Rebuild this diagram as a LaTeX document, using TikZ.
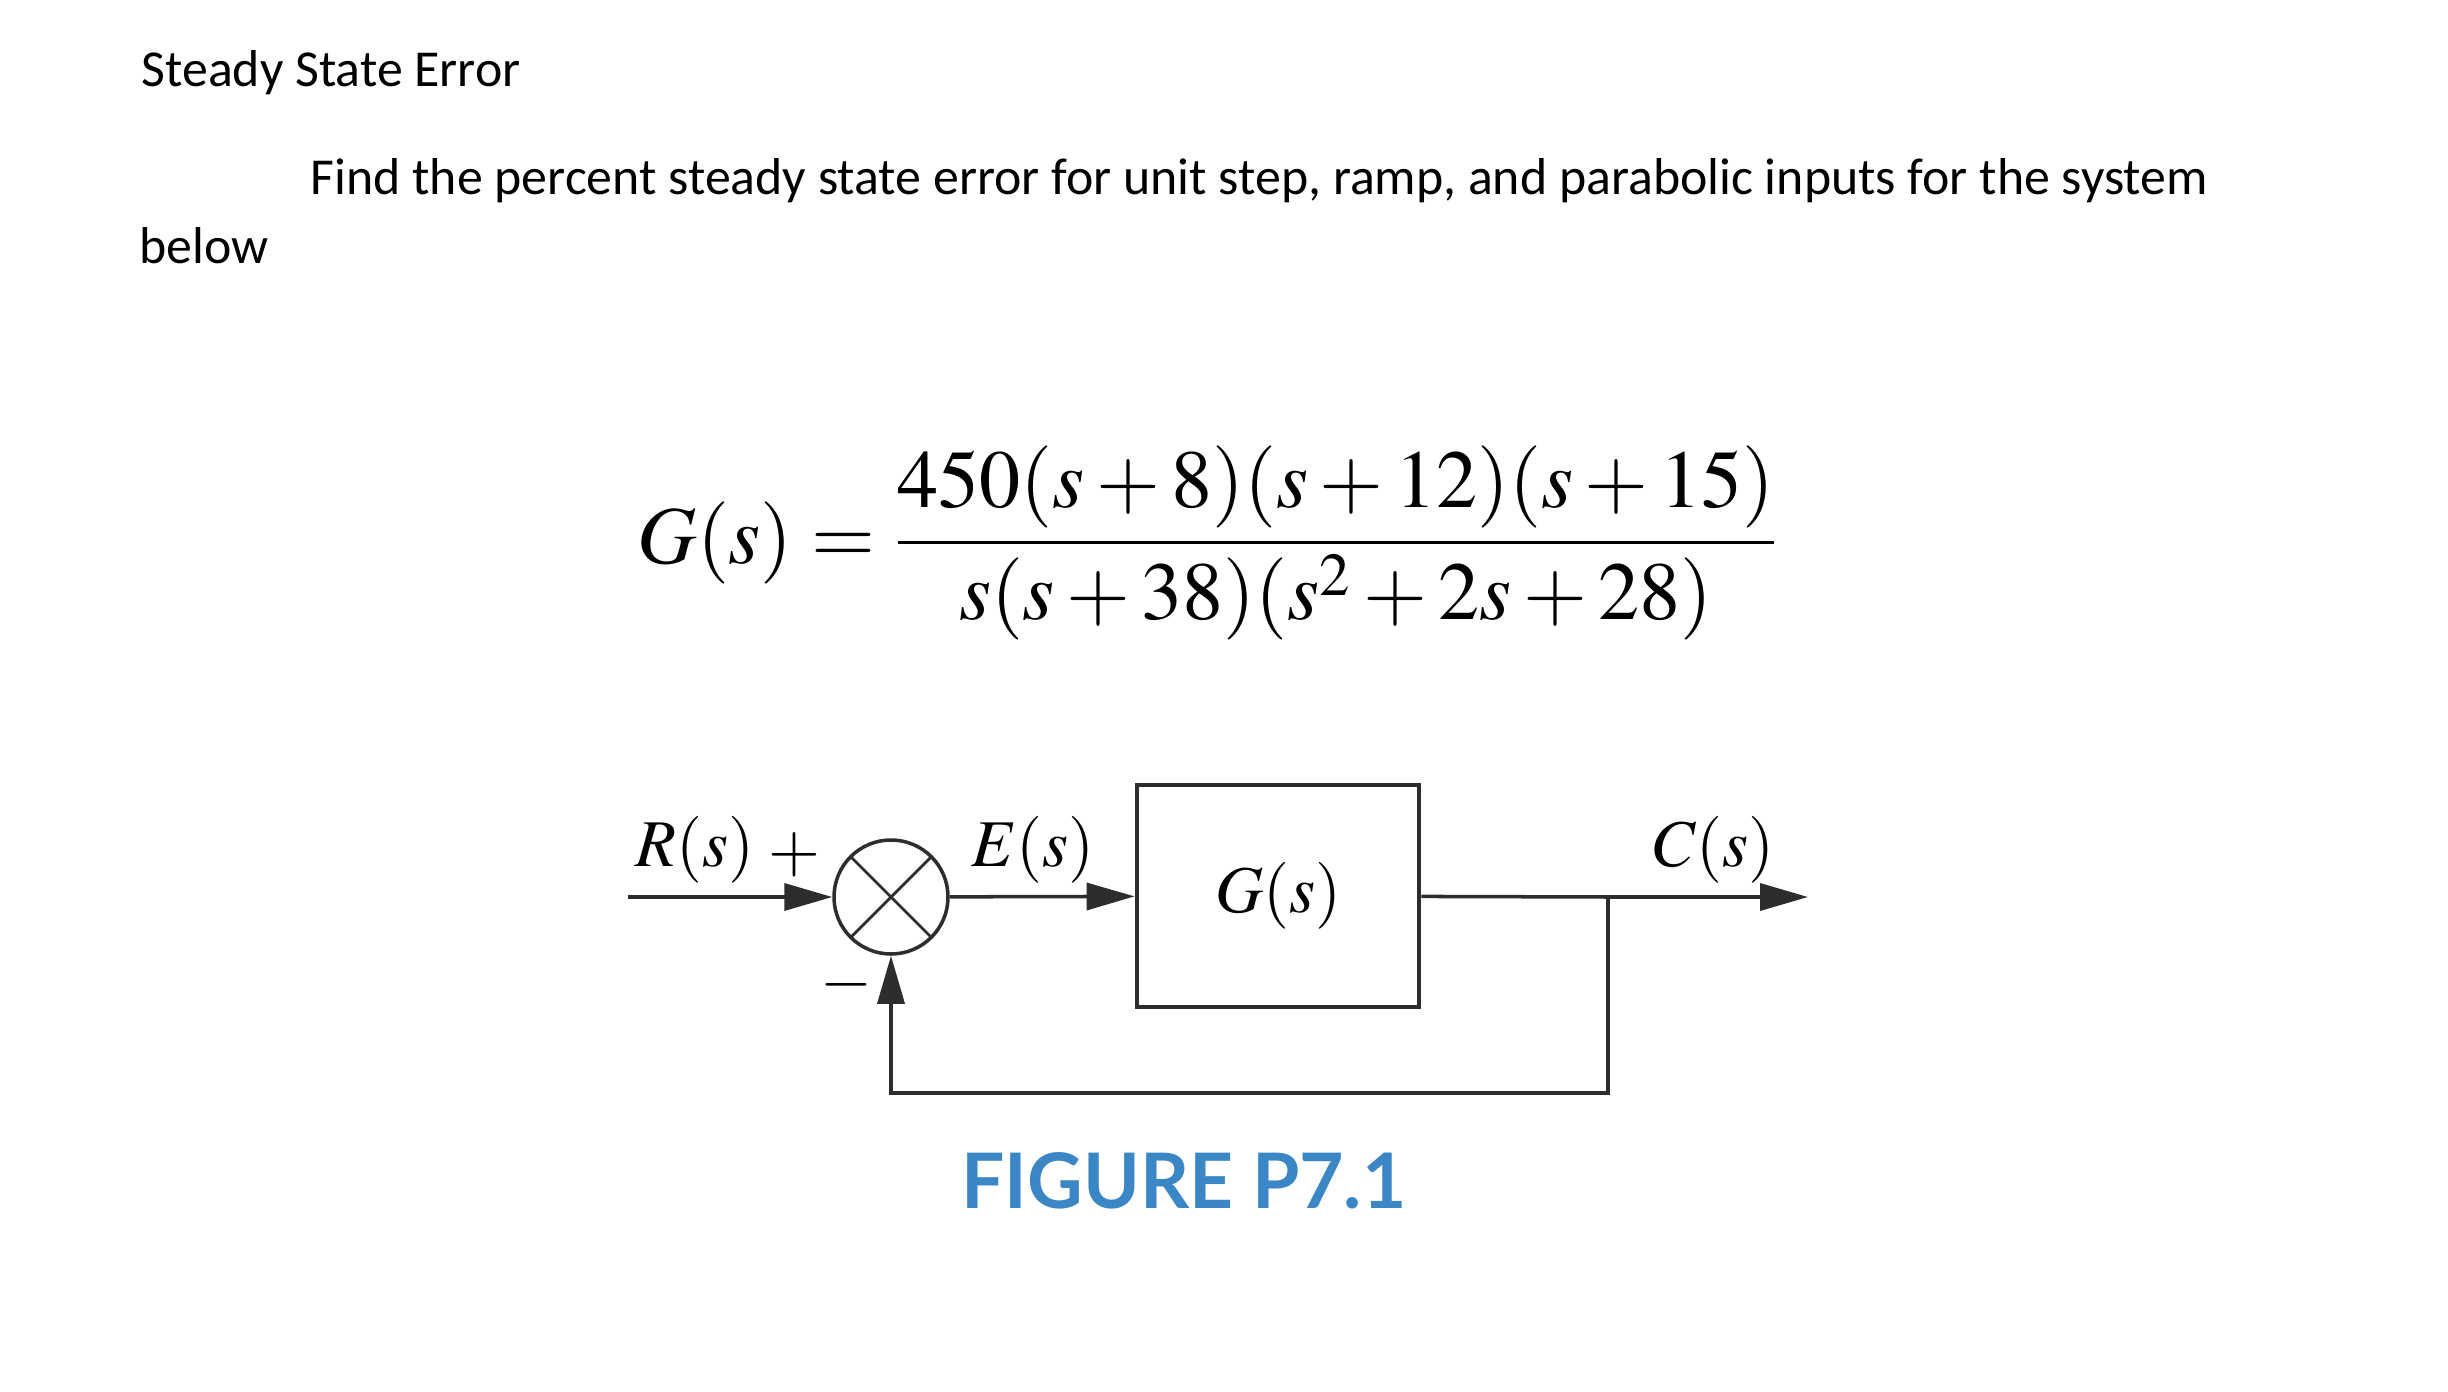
\documentclass[tikz,border=0pt]{standalone}
\usepackage{mathptmx}
\usepackage[no-math]{fontspec}
\newfontfamily\bodyfont{Carlito}
\newfontfamily\capfont{Lato}
\usepackage{xcolor}
\usepackage{graphicx}
\usetikzlibrary{arrows.meta, positioning, calc}
\definecolor{figblue}{RGB}{59,135,197}
\definecolor{linegray}{RGB}{45,45,45}

\begin{document}
\begin{tikzpicture}[
    txt/.style={inner sep=0pt, anchor=base west,
      font=\bodyfont\fontsize{14.75}{17}\selectfont},
    sumnode/.style={circle, draw=linegray, line width=1pt,
      minimum size=1.14cm, inner sep=0pt,
      path picture={\draw[linegray, line width=0.8pt]
        (path picture bounding box.south west) -- (path picture bounding box.north east)
        (path picture bounding box.north west) -- (path picture bounding box.south east);}},
    block/.style={rectangle, draw=linegray, line width=1.4pt,
      minimum width=2.82cm, minimum height=2.22cm,
      font=\fontsize{19}{22}\selectfont},
    sig/.style={draw=linegray, line width=1pt},
    arrow/.style={sig, -{Triangle[length=4.8mm, width=2.7mm]}},
    lbl/.style={inner sep=0pt, font=\fontsize{19}{22}\selectfont}
]
\useasboundingbox (0,0) rectangle (24.48,-13.92);

% problem statement
\node[txt] (title) at (1.41,-0.87) {Steady State Error};
\node[txt] (task)  at (3.10,-1.95) {Find the percent steady state error for unit step, ramp, and parabolic inputs for the system};
\node[txt] (below) at (1.39,-2.64) {below};

% transfer function
\node[inner sep=0pt, anchor=west, font=\fontsize{23.4}{28}\selectfont] (eq) at (6.37,-5.43)
  {$\displaystyle G(s) = \frac{450(s+8)(s+12)(s+15)}{s(s+38)(s^2+2s+28)}$};

% block diagram
\coordinate (in) at (6.28,-8.97);
\node[sumnode] (sum)   at (8.91,-8.97) {};
\node[block]   (plant) at (12.78,-8.96) {$G(s)$};
\coordinate (branch) at (16.08,-8.97);
\coordinate (out)    at (18.08,-8.97);
\coordinate (fb)     at (16.08,-10.93);

\node[lbl] (rlab)  at (6.95,-8.50)  {$R(s)$};
\node[lbl] (plus)  at (7.94,-8.55)  {$+$};
\node[lbl] (elab)  at (10.33,-8.50) {$E(s)$};
\node[lbl] (clab)  at (17.14,-8.50) {$C(s)$};
\node[lbl] (minus) at (8.46,-9.85)  {$-$};

\draw[arrow] (in) -- (sum);
\draw[arrow] (sum) -- (plant);
\draw[sig]   (plant) -- (branch);
\draw[arrow] (branch) -- (out);
\draw[arrow] (branch) -- (fb) -| (sum);

\node[inner sep=0pt, text=figblue,
  font=\capfont\bfseries\fontsize{21.8}{26}\selectfont] (cap) at (11.84,-11.81) {FIGURE P7.1};
\end{tikzpicture}
\end{document}
